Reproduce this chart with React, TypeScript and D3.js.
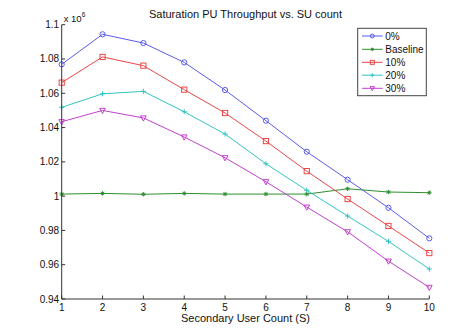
import React from "react";
import * as d3 from "d3";

const suCount = [1, 2, 3, 4, 5, 6, 7, 8, 9, 10];
const pct0 = [1.0769, 1.0944, 1.0893, 1.078, 1.0619, 1.044, 1.0259, 1.0096, 0.9932, 0.9754];
const baseline = [1.0012, 1.0016, 1.0011, 1.0016, 1.0012, 1.0012, 1.0012, 1.0043, 1.0024, 1.002];
const pct10 = [1.0662, 1.0812, 1.0761, 1.0621, 1.0485, 1.0321, 1.0146, 0.9983, 0.9826, 0.9668];
const pct20 = [1.0518, 1.0597, 1.0611, 1.0492, 1.0362, 1.0189, 1.0034, 0.9884, 0.9736, 0.9575];
const pct30 = [1.0434, 1.05, 1.0456, 1.0345, 1.0224, 1.0084, 0.9936, 0.9792, 0.9621, 0.9468];
const yTicks = [0.94, 0.96, 0.98, 1, 1.02, 1.04, 1.06, 1.08, 1.1];
const yTickLabels = ["0.94", "0.96", "0.98", "1", "1.02", "1.04", "1.06", "1.08", "1.1"];

const series = [
  { name: "0%", values: pct0, color: "#5b5bea", marker: "circle" },
  { name: "Baseline", values: baseline, color: "#2f8f2f", marker: "star" },
  { name: "10%", values: pct10, color: "#e84848", marker: "square" },
  { name: "20%", values: pct20, color: "#33c4c4", marker: "plus" },
  { name: "30%", values: pct30, color: "#c040cc", marker: "tri" },
];

const font = "'Liberation Sans', Arial, Helvetica, sans-serif";

function Marker({ type, x, y, color, s = 2.6 }: { type: string; x: number; y: number; color: string; s?: number }) {
  if (type === "circle") return <circle cx={x} cy={y} r={s} fill="none" stroke={color} strokeWidth={1} />;
  if (type === "square")
    return <rect x={x - s} y={y - s} width={2 * s} height={2 * s} fill="none" stroke={color} strokeWidth={1} />;
  if (type === "plus")
    return (
      <path d={`M${x - s},${y}H${x + s}M${x},${y - s}V${y + s}`} stroke={color} strokeWidth={1} fill="none" />
    );
  if (type === "tri")
    return (
      <path
        d={`M${x - s * 1.1},${y - s * 0.8}L${x + s * 1.1},${y - s * 0.8}L${x},${y + s * 1.2}Z`}
        fill="none"
        stroke={color}
        strokeWidth={1}
      />
    );
  // star
  const r = s * 0.85;
  const d = r * 0.707;
  return (
    <path
      d={`M${x - r},${y}H${x + r}M${x},${y - r}V${y + r}M${x - d},${y - d}L${x + d},${y + d}M${x - d},${y + d}L${x + d},${y - d}`}
      stroke={color}
      strokeWidth={1}
      fill="none"
    />
  );
}

export default function App() {
  const W = 474;
  const H = 336;
  const x = d3.scaleLinear().domain([1, 10]).range([61.7, 429.3]);
  const y = d3.scaleLinear().domain([0.94, 1.1]).range([299, 24.7]);
  const line = d3
    .line<number>()
    .x((_, i) => x(suCount[i]))
    .y((v) => y(v));
  const x0 = x.range()[0];
  const y0 = y.range()[0];
  const tickLen = 3.5;

  const legX = 357.7;
  const legY = 28.3;
  const legW = 68.6;
  const legH = 67.4;
  const rowY = [36, 49.3, 62.3, 75.2, 88.3];

  return (
    <svg
      width={W}
      height={H}
      style={{ position: "absolute", left: 0, top: 0, background: "#fff" }}
      fontFamily={font}
    >
      <rect width={W} height={H} fill="#fff" />
      {series.map((s) => (
        <g key={s.name}>
          <path d={line(s.values) || ""} fill="none" stroke={s.color} strokeWidth={1} />
          {s.values.map((v, i) => (
            <Marker key={i} type={s.marker} x={x(suCount[i])} y={y(v)} color={s.color} />
          ))}
        </g>
      ))}
      <path d={`M${x0},${y(1.1)}V${y0}H${x(10)}`} fill="none" stroke="#333" strokeWidth={1} />
      {yTicks.map((t, i) => (
        <g key={t}>
          <line x1={x0} x2={x0 + tickLen} y1={y(t)} y2={y(t)} stroke="#333" strokeWidth={1} />
          <text x={x0 - 2.5} y={y(t) + 3.5} textAnchor="end" fontSize={10} fill="#111">
            {yTickLabels[i]}
          </text>
        </g>
      ))}
      {suCount.map((t) => (
        <g key={t}>
          <line x1={x(t)} x2={x(t)} y1={y0} y2={y0 - tickLen} stroke="#333" strokeWidth={1} />
          <text x={x(t)} y={y0 + 12} textAnchor="middle" fontSize={10} fill="#111">
            {t}
          </text>
        </g>
      ))}
      <text x={x0 + 2} y={22} fontSize={9.5} fill="#111">
        x 10
        <tspan dy={-5} fontSize={6.5}>
          6
        </tspan>
      </text>
      <text x={(x0 + x(10)) / 2} y={18} textAnchor="middle" fontSize={11} fill="#111">
        Saturation PU Throughput vs. SU count
      </text>
      <text x={(x0 + x(10)) / 2} y={322} textAnchor="middle" fontSize={11} fill="#111">
        Secondary User Count (S)
      </text>
      <rect x={legX} y={legY} width={legW} height={legH} fill="#fff" stroke="#444" strokeWidth={1} />
      {series.map((s, i) => (
        <g key={s.name}>
          <line x1={362} x2={382.7} y1={rowY[i]} y2={rowY[i]} stroke={s.color} strokeWidth={1} />
          <Marker type={s.marker} x={372.3} y={rowY[i]} color={s.color} s={2} />
          <text x={385.3} y={rowY[i] + 3.5} fontSize={10} fill="#111">
            {s.name}
          </text>
        </g>
      ))}
    </svg>
  );
}
